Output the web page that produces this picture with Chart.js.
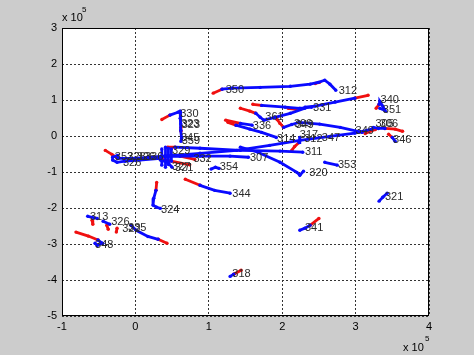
<!DOCTYPE html>
<html>
<head>
<meta charset="utf-8">
<script src="https://cdn.jsdelivr.net/npm/chart.js@4.4.1/dist/chart.umd.min.js"></script>
<style>
  html, body { margin: 0; padding: 0; background: #cccccc; }
  #wrap { width: 474px; height: 355px; }
</style>
</head>
<body>
<div id="wrap"><canvas id="tracks" width="474" height="355"></canvas></div>
<script>
// axis ticks (values in units of 10^5)
const xTicks = [-1, 0, 1, 2, 3, 4];
const yTicks = [3, 2, 1, 0, -1, -2, -3, -4, -5];

// blue track polylines (x 10^5)
const trackX = [
    [1.18, 1.32],
    [1.32, 1.70, 2.11, 2.38, 2.49, 2.58, 2.65, 2.73],
    [2.99, 2.72, 2.45, 2.31],
    [1.72, 2.04, 2.24, 2.40],
    [1.64, 1.70, 1.75, 1.90, 2.11, 2.31],
    [1.43, 1.59],
    [1.37, 1.56, 1.72, 1.92],
    [2.02, 2.13, 2.23, 2.51, 2.79, 3.09],
    [0.40, 0.88, 1.38, 1.83, 2.24, 2.65, 2.99, 3.22],
    [2.23, 2.24],
    [0.54, 0.88, 1.43, 1.97, 2.28],
    [0.40, 0.88, 1.29, 1.54],
    [1.43, 1.67, 1.97, 2.20, 2.24, 2.29],
    [2.58, 2.75],
    [3.32, 3.33, 3.37, 3.40, 3.33],
    [3.24, 3.31, 3.40],
    [3.50, 3.54],
    [0.47, 0.58, 0.61],
    [0.61, 0.61, 0.62, 0.62, 0.63, 0.62],
    [0.34, 0.44, 0.50],
    [0.40, 0.61],
    [0.36, 0.36],
    [0.41, 0.41],
    [0.45, 0.45],
    [0.49, 0.49],
    [-0.24, -0.01, 0.20, 0.40],
    [-0.24, -0.31, -0.31, -0.25, -0.14, 0.06, 0.34],
    [1.03, 1.09, 1.14],
    [0.88, 1.08, 1.29],
    [0.28, 0.25, 0.24, 0.29, 0.34],
    [-0.65, -0.52],
    [-0.44, -0.35],
    [-0.06, 0.01, 0.17, 0.31],
    [-0.51, -0.45, -0.52, -0.55],
    [1.29, 1.34],
    [2.24, 2.31, 2.38],
    [3.32, 3.37, 3.43]
];
const trackY = [
    [1.30, 1.33],
    [1.33, 1.35, 1.38, 1.44, 1.49, 1.55, 1.44, 1.27],
    [1.05, 0.94, 0.83, 0.80],
    [0.85, 0.80, 0.77, 0.80],
    [0.63, 0.52, 0.44, 0.52, 0.63, 0.77],
    [0.35, 0.30],
    [0.30, 0.19, 0.10, -0.04],
    [0.24, 0.32, 0.38, 0.33, 0.24, 0.10],
    [-0.56, -0.48, -0.40, -0.26, -0.12, -0.01, 0.08, 0.19],
    [-0.18, -0.04],
    [-0.31, -0.34, -0.40, -0.42, -0.45],
    [-0.56, -0.56, -0.56, -0.59],
    [-0.31, -0.45, -0.73, -1.01, -1.09, -0.98],
    [-0.73, -0.81],
    [0.88, 0.96, 0.83, 0.71, 0.77],
    [0.24, 0.21, 0.21],
    [-0.04, -0.15],
    [0.58, 0.66, 0.69],
    [0.69, 0.49, 0.33, 0.16, -0.06, -0.15],
    [-0.67, -0.73, -0.87],
    [-0.56, -0.56],
    [-0.36, -0.81],
    [-0.31, -0.87],
    [-0.34, -0.79],
    [-0.36, -0.70],
    [-0.62, -0.62, -0.59, -0.56],
    [-0.54, -0.59, -0.67, -0.73, -0.70, -0.67, -0.62],
    [-0.92, -0.87, -0.90],
    [-1.37, -1.51, -1.59],
    [-1.51, -1.73, -1.92, -1.98, -2.01],
    [-2.23, -2.29],
    [-2.37, -2.45],
    [-2.48, -2.62, -2.79, -2.87],
    [-2.89, -2.98, -3.04, -2.98],
    [-3.90, -3.84],
    [-2.62, -2.56, -2.48],
    [-1.81, -1.70, -1.59]
];

// red pieces of the tracks
const redX = [
    [1.06, 1.18], [2.45, 2.51], [3.17, 2.99], [1.60, 1.72], [2.08, 2.19],
    [1.43, 1.56, 1.64], [1.23, 1.43], [1.26, 1.37], [1.93, 1.97, 2.02],
    [3.13, 3.27], [2.13, 2.17, 2.23], [0.44, 0.54], [3.28, 3.32],
    [3.40, 3.54, 3.64], [3.45, 3.50], [0.36, 0.47], [0.62, 0.62],
    [0.30, 0.74], [0.61, 0.81], [-0.41, -0.32, -0.24], [0.68, 0.88],
    [0.29, 0.28], [-0.59, -0.58], [-0.39, -0.37], [-0.25, -0.26],
    [0.31, 0.43], [-0.81, -0.64, -0.51], [1.34, 1.44], [2.38, 2.50]
];
const redY = [
    [1.19, 1.30], [1.46, 1.49], [1.13, 1.05], [0.88, 0.85], [0.77, 0.74],
    [0.77, 0.69, 0.63], [0.44, 0.35], [0.38, 0.30], [0.46, 0.35, 0.24],
    [0.07, 0.18], [-0.40, -0.29, -0.18], [-0.31, -0.31], [0.77, 0.88],
    [0.21, 0.19, 0.13], [0.05, -0.04], [0.46, 0.58], [0.24, 0.13],
    [-0.62, -0.80], [-0.56, -0.65], [-0.40, -0.51, -0.62], [-1.20, -1.37],
    [-1.29, -1.51], [-2.34, -2.45], [-2.48, -2.59], [-2.56, -2.67],
    [-2.87, -2.98], [-2.67, -2.78, -2.89], [-3.84, -3.73], [-2.48, -2.29]
];

// track number labels
const labelText = ['350', '312', '331', '361', '336', '314', '309', '349', '317', '312',
    '347', '311', '307', '320', '353', '340', '351', '305', '306', '346',
    '349', '330', '323', '323', '345', '359', '329', '332', '327', '321',
    '352', '328', '326', '336', '326', '354', '344', '324', '313', '326',
    '322', '335', '348', '318', '341', '321'];
const labelX = [1.23, 2.77, 2.42, 1.77, 1.60, 1.93, 2.16, 2.18, 2.24, 2.30,
    2.54, 2.31, 1.56, 2.37, 2.76, 3.34, 3.37, 3.27, 3.33, 3.51,
    3.00, 0.61, 0.62, 0.63, 0.62, 0.63, 0.50, 0.79, 0.50, 0.54,
    -0.28, -0.11, 0.02, 0.13, -0.17, 1.15, 1.32, 0.35, -0.62, -0.33,
    -0.18, -0.10, -0.55, 1.32, 2.31, 3.40];
const labelY = [1.27, 1.24, 0.77, 0.52, 0.27, -0.09, 0.33, 0.30, 0.02, -0.09,
    -0.06, -0.45, -0.62, -1.04, -0.81, 0.99, 0.71, 0.33, 0.33, -0.12,
    0.13, 0.60, 0.33, 0.30, -0.06, -0.15, -0.42, -0.63, -0.87, -0.90,
    -0.59, -0.59, -0.59, -0.59, -0.76, -0.87, -1.62, -2.06, -2.26, -2.40,
    -2.59, -2.56, -3.04, -3.84, -2.56, -1.70];

const BLUE = '#0a0aff';
const RED = '#f01010';
const FONT = '"Liberation Sans", Arial, sans-serif';

function toPoints(xs, ys) {
    return xs.map(function(x, i) { return { x: x, y: ys[i] }; });
}

function lineSet(xs, ys, color) {
    return {
        data: toPoints(xs, ys),
        showLine: true,
        borderColor: color,
        backgroundColor: color,
        borderWidth: 2.8,
        pointRadius: 1.7,
        pointBorderWidth: 0,
        tension: 0
    };
}

const datasets = [];
trackX.forEach(function(xs, i) { datasets.push(lineSet(xs, trackY[i], BLUE)); });
redX.forEach(function(xs, i) { datasets.push(lineSet(xs, redY[i], RED)); });

// white axes box, frame, text labels and the x10^5 notes
const framePlugin = {
    id: 'frame',
    beforeDraw: function(chart) {
        const a = chart.chartArea, c = chart.ctx;
        c.save();
        c.fillStyle = '#cccccc';
        c.fillRect(0, 0, chart.width, chart.height);
        c.fillStyle = '#ffffff';
        c.fillRect(a.left, a.top, a.right - a.left, a.bottom - a.top);
        c.restore();
    },
    afterDatasetsDraw: function(chart) {
        const c = chart.ctx, sx = chart.scales.x, sy = chart.scales.y;
        c.save();
        c.font = '11px ' + FONT;
        c.fillStyle = '#2a2a2a';
        c.textAlign = 'left';
        c.textBaseline = 'middle';
        labelText.forEach(function(t, i) {
            c.fillText(t, sx.getPixelForValue(labelX[i]), sy.getPixelForValue(labelY[i]));
        });
        c.restore();
    },
    afterDraw: function(chart) {
        const a = chart.chartArea, c = chart.ctx;
        c.save();
        c.strokeStyle = '#000000';
        c.lineWidth = 1;
        c.strokeRect(a.left + 0.5, a.top + 0.5, a.right - a.left - 1, a.bottom - a.top - 1);
        c.fillStyle = '#000000';
        c.textBaseline = 'middle';
        c.textAlign = 'left';
        c.font = '11px ' + FONT;
        c.fillText('x 10', a.left, a.top - 10);
        c.fillText('x 10', a.right - 26, a.bottom + 32);
        c.font = '8px ' + FONT;
        c.fillText('5', a.left + 20, a.top - 18);
        c.fillText('5', a.right - 4, a.bottom + 23);
        c.restore();
    }
};

const ctx = document.getElementById('tracks').getContext('2d');
new Chart(ctx, {
    type: 'scatter',
    data: { datasets: datasets },
    options: {
        responsive: false,
        animation: false,
        devicePixelRatio: 1,
        layout: { padding: { top: 28, right: 45, left: 0, bottom: 0 } },
        plugins: {
            legend: { display: false },
            tooltip: { enabled: false }
        },
        scales: {
            x: {
                type: 'linear',
                min: -1,
                max: 4,
                afterBuildTicks: function(s) { s.ticks = xTicks.map(function(v) { return { value: v }; }); },
                afterFit: function(s) { s.height = 39; },
                ticks: {
                    color: '#000000',
                    padding: 4,
                    maxRotation: 0,
                    font: { family: FONT, size: 11 }
                },
                grid: { color: '#333333', drawTicks: false, lineWidth: 1 },
                border: { display: false, dash: [2, 2] }
            },
            y: {
                type: 'linear',
                min: -5,
                max: 3,
                afterBuildTicks: function(s) { s.ticks = yTicks.map(function(v) { return { value: v }; }); },
                afterFit: function(s) { s.width = 62; },
                ticks: {
                    color: '#000000',
                    padding: 5,
                    font: { family: FONT, size: 11 }
                },
                grid: { color: '#333333', drawTicks: false, lineWidth: 1 },
                border: { display: false, dash: [2, 2] }
            }
        }
    },
    plugins: [framePlugin]
});
</script>
</body>
</html>
